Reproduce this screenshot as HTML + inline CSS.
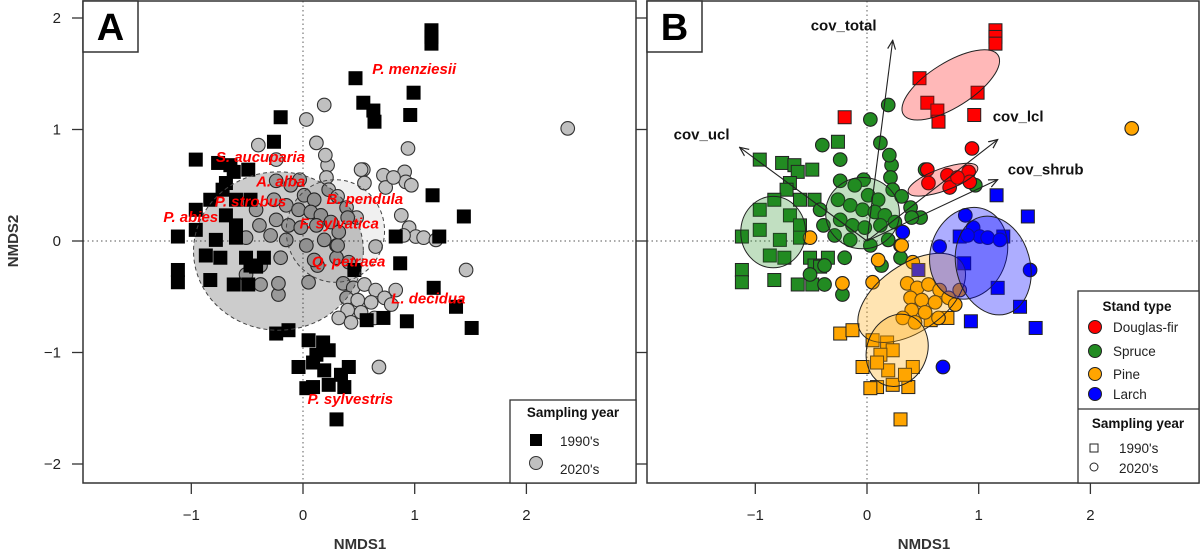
<!DOCTYPE html>
<html><head><meta charset="utf-8"><style>
html,body{margin:0;padding:0;background:#fff}
svg{display:block;font-family:"Liberation Sans","DejaVu Sans",sans-serif}
</style></head><body>
<svg id="chart" width="1200" height="555" viewBox="0 0 1200 555" xmlns="http://www.w3.org/2000/svg"></svg>
<script>
// ---- data (NMDS coordinates) ----
const douglas90 = [[1.15,1.89],[1.15,1.83],[1.15,1.77],[0.47,1.46],[0.54,1.24],[0.63,1.17],[0.64,1.07],[0.96,1.13],[0.99,1.33],[-0.2,1.11]];
const douglas20 = [[0.94,0.83],[0.54,0.64],[0.55,0.52],[0.72,0.59],[0.74,0.48],[0.91,0.62],[0.92,0.53],[0.81,0.57]];
const spruce90 = [[-0.96,0.73],[-0.76,0.70],[-0.65,0.68],[-0.62,0.62],[-0.49,0.64],[-0.69,0.52],[-0.72,0.46],[-0.60,0.37],[-0.47,0.37],[-0.96,0.28],[-0.83,0.37],[-0.69,0.23],[-0.60,0.14],[-0.96,0.10],[-1.12,0.04],[-0.78,0.01],[-0.60,0.03],[-0.87,-0.13],[-0.74,-0.15],[-0.51,-0.15],[-0.47,-0.22],[-0.83,-0.35],[-0.62,-0.39],[-0.49,-0.39],[-1.12,-0.26],[-1.12,-0.37],[-0.42,-0.23],[-0.35,-0.15],[-0.26,0.89]];
const spruce20 = [[0.19,1.22],[-0.40,0.86],[0.12,0.88],[-0.24,0.73],[0.22,0.68],[0.21,0.57],[-0.03,0.55],[0.23,0.46],[0.31,0.40],[-0.24,0.54],[-0.11,0.50],[0.01,0.41],[0.10,0.37],[-0.26,0.37],[-0.15,0.32],[-0.04,0.28],[0.07,0.26],[0.16,0.23],[-0.24,0.19],[-0.13,0.14],[-0.02,0.12],[0.12,0.14],[0.25,0.17],[0.39,0.30],[0.48,0.21],[-0.29,0.05],[-0.15,0.01],[0.03,-0.04],[0.19,0.01],[0.30,-0.04],[0.30,-0.15],[-0.20,-0.15],[-0.38,-0.22],[-0.51,-0.30],[-0.38,-0.39],[-0.22,-0.48],[0.13,-0.22],[0.97,0.50],[0.52,0.64],[0.03,1.09],[0.20,0.77],[0.40,0.21],[-0.39,0.14],[-0.42,0.28]];
const pine90 = [[-0.24,-0.83],[-0.13,-0.80],[0.05,-0.89],[0.18,-0.91],[0.23,-0.98],[0.12,-1.02],[-0.04,-1.13],[0.09,-1.31],[0.23,-1.29],[0.37,-1.31],[0.41,-1.13],[0.34,-1.20],[0.19,-1.16],[0.03,-1.32],[0.57,-0.71],[0.72,-0.69],[0.30,-1.60],[0.09,-1.09]];
const pine20 = [[2.37,1.01],[-0.51,0.03],[0.31,-0.04],[0.10,-0.17],[-0.22,-0.38],[0.05,-0.37],[0.41,-0.19],[0.36,-0.38],[0.45,-0.42],[0.55,-0.39],[0.65,-0.44],[0.39,-0.51],[0.49,-0.53],[0.61,-0.55],[0.73,-0.51],[0.40,-0.62],[0.52,-0.64],[0.32,-0.69],[0.43,-0.73],[0.64,-0.69],[0.79,-0.57],[0.83,-0.44]];
const larch90 = [[1.16,0.41],[1.44,0.22],[1.17,-0.42],[1.37,-0.59],[1.51,-0.78],[0.93,-0.72],[0.46,-0.26],[0.87,-0.20],[0.83,0.04],[1.22,0.04]];
const larch20 = [[0.88,0.23],[0.95,0.12],[1.01,0.04],[1.08,0.03],[1.19,0.01],[0.32,0.08],[1.46,-0.26],[0.68,-1.13],[0.65,-0.05],[0.90,0.05]];
const xTicks = [-1,0,1,2];
const yTicks = [-2,-1,0,1,2];
const xTickLabels = ["\u22121","0","1","2"];
const yTickLabels = ["\u22122","\u22121","0","1","2"];
const arrowNames = ["cov_total","cov_ucl","cov_lcl","cov_shrub"];
const arrowX = [0.23,-1.14,1.17,1.17];
const arrowY = [1.80,0.84,0.91,0.55];
const speciesNames = ["P. menziesii","S. aucuparia","A. alba","P. strobus","B. pendula","P. abies","F. sylvatica","Q. petraea","L. decidua","P. sylvestris"];
const speciesX = [0.62,-0.78,-0.42,-0.79,0.21,-1.25,-0.03,0.08,0.79,0.04];
const speciesY = [1.50,0.71,0.49,0.31,0.33,0.17,0.11,-0.23,-0.56,-1.46];
// ellipses: cx, cy, rx, ry (data units), angle
const ellA = [[-0.22,-0.09,0.76,0.71,0],[0.29,0.09,0.44,0.46,0]];
const ellB = [[0.75,1.40,0.50,0.20,-32,"red"],[0.68,0.55,0.33,0.10,-20,"red"],[-0.84,0.08,0.29,0.32,0,"green"],[-0.04,0.25,0.33,0.32,0,"green"],[0.40,-0.51,0.55,0.30,-35,"orange"],[0.27,-0.98,0.27,0.33,20,"orange"],[0.91,-0.11,0.34,0.42,20,"blue"],[1.13,-0.22,0.33,0.45,-15,"blue"]];

const NS="http://www.w3.org/2000/svg";
const svg=document.getElementById('chart');
const SX=111.7, SY=111.5, Y0=241;
function sxA(v){return 303+v*SX;}
function sxB(v){return 867+v*SX;}
function sy(v){return Y0-v*SY;}
function mk(tag,attrs,parent){const e=document.createElementNS(NS,tag);for(const k in attrs)e.setAttribute(k,attrs[k]);(parent||svg).appendChild(e);return e;}
const COL={red:"#ff0000",green:"#228b22",orange:"#ffa500",blue:"#0000ff"};
const FILL={red:"rgba(255,0,0,0.28)",green:"rgba(34,139,34,0.28)",orange:"rgba(255,165,0,0.3)",blue:"rgba(0,0,255,0.32)"};

function panel(name,L,R,sx){
  const g=mk('g',{});
  
  
  const zl1=mk('line',{x1:L,x2:R,y1:sy(0),y2:sy(0),stroke:"#777","stroke-dasharray":"1.5,3","stroke-width":1.2},g);
  
  
  const zl2=mk('line',{x1:sx(0),x2:sx(0),y1:1,y2:483,stroke:"#777","stroke-dasharray":"1.5,3","stroke-width":1.2},g);
  
  
  return g;
}
function sq(g,x,y,fill,stroke){return mk('rect',{x:x-6.5,y:y-6.5,width:13,height:13,fill:fill,stroke:stroke,"stroke-width":1},g);}
function ci(g,x,y,fill,stroke){return mk('circle',{cx:x,cy:y,r:6.8,fill:fill,stroke:stroke,"stroke-width":1.1},g);}

// ---------- Panel A ----------
const gA=panel('panel-a',83,636,sxA);
const all90=[].concat(douglas90,spruce90,pine90,larch90);
const all20=[].concat(douglas20,spruce20,pine20,larch20);
all20.forEach(p=>{const c=ci(gA,sxA(p[0]),sy(p[1]),"#c0c0c0","#333");

});
all90.forEach(p=>{const s=sq(gA,sxA(p[0]),sy(p[1]),"#000","#000");

});
ellA.forEach((e,i)=>{const el=mk('ellipse',{cx:sxA(e[0]),cy:sy(e[1]),rx:e[2]*SX,ry:e[3]*SY,fill:i==0?"rgba(0,0,0,0.2)":"rgba(0,0,0,0.06)",stroke:"#444","stroke-dasharray":"4,3","stroke-width":1},gA);

});
speciesNames.forEach((n,i)=>{const t=mk('text',{x:sxA(speciesX[i]),y:sy(speciesY[i]),fill:"#ff0000","font-size":15,"font-weight":"bold","font-style":"italic"},gA);t.textContent=n;

});

// ---------- Panel B ----------
const gB=panel('panel-b',647,1199,sxB);
function drawGroup(arr,col,isSq){arr.forEach(p=>{let m;if(isSq)m=sq(gB,sxB(p[0]),sy(p[1]),COL[col],"#222");else m=ci(gB,sxB(p[0]),sy(p[1]),COL[col],"#222");

});}
drawGroup(spruce90,'green',true);drawGroup(spruce20,'green',false);
drawGroup(pine90,'orange',true);drawGroup(pine20,'orange',false);
drawGroup(larch90,'blue',true);drawGroup(larch20,'blue',false);
drawGroup(douglas90,'red',true);drawGroup(douglas20,'red',false);
ellB.forEach(e=>{const cx=sxB(e[0]),cy=sy(e[1]);const el=mk('ellipse',{cx:cx,cy:cy,rx:e[2]*SX,ry:e[3]*SY,fill:FILL[e[5]],stroke:"#222","stroke-width":1,transform:`rotate(${e[4]} ${cx} ${cy})`},gB);

});
mk('defs',{}).innerHTML='<marker id="ah" markerWidth="10" markerHeight="10" refX="9" refY="5" orient="auto" markerUnits="userSpaceOnUse"><path d="M0,1 L9,5 L0,9" fill="none" stroke="#222" stroke-width="1.2"/></marker>';
const labOff=[[-82,-10],[-66,-8],[-5,-18],[10,-5]];
arrowNames.forEach((n,i)=>{const x2=sxB(arrowX[i]),y2=sy(arrowY[i]);
const l=mk('line',{x1:sxB(0),y1:sy(0),x2:x2,y2:y2,stroke:"#222","stroke-width":1.1,"marker-end":"url(#ah)"},gB);


const t=mk('text',{x:x2+labOff[i][0],y:y2+labOff[i][1],"font-size":15,"font-weight":"bold",fill:"#111"},gB);t.textContent=n;

});

// ---------- frames, ticks, labels ----------
function frame(L,R,sx,labels,name,titleX){
  const r=mk('rect',{x:L,y:1,width:R-L,height:482,fill:"none",stroke:"#333","stroke-width":1.5});
  
  
  xTicks.forEach((v,i)=>{mk('line',{x1:sx(v),x2:sx(v),y1:483,y2:494,stroke:"#333","stroke-width":1.3});
   const t=mk('text',{x:sx(v),y:520,"text-anchor":"middle","font-size":15,fill:"#222"});t.textContent=xTickLabels[i];
   
   });
  yTicks.forEach((v,i)=>{mk('line',{x1:L-11,x2:L,y1:sy(v),y2:sy(v),stroke:"#333","stroke-width":1.3});
   if(labels){const t=mk('text',{x:L-22,y:sy(v)+5,"text-anchor":"end","font-size":15,fill:"#222"});t.textContent=yTickLabels[i];
   
   }});
  const xt=mk('text',{x:titleX,y:549,"text-anchor":"middle","font-size":15,"font-weight":"bold",fill:"#333"});xt.textContent="NMDS1";
  
  
}
frame(83,636,sxA,true,'panel-a',360);
frame(647,1199,sxB,false,'panel-b',924);
const yt=mk('text',{x:18,y:241,"text-anchor":"middle","font-size":15,"font-weight":"bold",fill:"#333",transform:"rotate(-90 18 241)"});yt.textContent="NMDS2";



function letter(x,ch,name){const r=mk('rect',{x:x,y:1,width:55,height:51,fill:"#fff",stroke:"#333","stroke-width":1.5});
 
 
 const t=mk('text',{x:x+27.5,y:40,"text-anchor":"middle","font-size":38,"font-weight":"bold",fill:"#000"});t.textContent=ch;
 
 }
letter(83,"A",'panel-a-letter');
letter(647,"B",'panel-b-letter');

// Legend A
const lgA=mk('g',{});


mk('rect',{x:510,y:400,width:126,height:83,fill:"#fff",stroke:"#333","stroke-width":1.3},lgA);
let t=mk('text',{x:573,y:417,"text-anchor":"middle","font-size":13.5,"font-weight":"bold",fill:"#111"},lgA);t.textContent="Sampling year";
mk('rect',{x:530,y:434,width:12,height:12,fill:"#000"},lgA);
t=mk('text',{x:560,y:446,"font-size":13.5,fill:"#222"},lgA);t.textContent="1990's";
mk('circle',{cx:536,cy:463,r:6.5,fill:"#c0c0c0",stroke:"#333"},lgA);
t=mk('text',{x:560,y:474,"font-size":13.5,fill:"#222"},lgA);t.textContent="2020's";

// Legend B
const lgB=mk('g',{});


mk('rect',{x:1078,y:291,width:121,height:192,fill:"#fff",stroke:"#333","stroke-width":1.3},lgB);
mk('line',{x1:1078,x2:1199,y1:409,y2:409,stroke:"#333","stroke-width":1.3},lgB);
t=mk('text',{x:1137,y:311,"text-anchor":"middle","font-size":13.5,"font-weight":"bold",fill:"#111"},lgB);t.textContent="Stand type";
const lgNames=["Douglas-fir","Spruce","Pine","Larch"],lgCols=["red","green","orange","blue"],lgY=[327,351,374,394];
lgNames.forEach((n,i)=>{mk('circle',{cx:1095,cy:lgY[i],r:6.5,fill:COL[lgCols[i]],stroke:"#222"},lgB);
 const tt=mk('text',{x:1113,y:lgY[i]+5,"font-size":13.5,fill:"#222"},lgB);tt.textContent=n;
 
 });
t=mk('text',{x:1138,y:428,"text-anchor":"middle","font-size":13.5,"font-weight":"bold",fill:"#111"},lgB);t.textContent="Sampling year";
mk('rect',{x:1090,y:444,width:8,height:8,fill:"none",stroke:"#222"},lgB);
t=mk('text',{x:1119,y:453,"font-size":13.5,fill:"#222"},lgB);t.textContent="1990's";
mk('circle',{cx:1094,cy:467,r:4,fill:"none",stroke:"#222"},lgB);
t=mk('text',{x:1119,y:473,"font-size":13.5,fill:"#222"},lgB);t.textContent="2020's";
</script>
</body></html>
